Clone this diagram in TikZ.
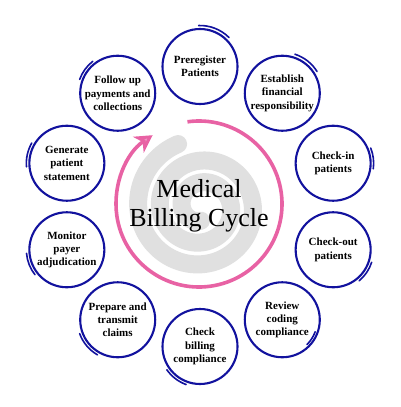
\documentclass[tikz,border=0pt]{standalone}
\usepackage{fontspec}
\setmainfont{Liberation Serif}
\usetikzlibrary{arrows.meta,calc}
\definecolor{navy}{RGB}{18,18,158}
\definecolor{hotpink}{RGB}{232,98,164}
\definecolor{lightpink}{RGB}{238,150,195}
\definecolor{spiralgray}{RGB}{224,224,224}
\tikzset{
  stepcirc/.style={circle, draw=navy, line width=2.1pt, minimum size=75pt, inner sep=0pt,
    align=center, font=\bfseries\fontsize{11}{13.4}\selectfont},
  tailstroke/.style={draw=navy, line width=1.6pt, line cap=round},
  pinkarc/.style={draw=hotpink, line width=3.6pt}
}
\newcommand\circtail[4]{\draw[tailstroke] (#1.center) ++(#2:#4) arc[start angle=#2, end angle=#3, radius=#4];}
\begin{document}
\begin{tikzpicture}[x=1pt,y=1pt]
\useasboundingbox (0,0) rectangle (400,-407);
\fill[white] (0,0) rectangle (400,-407);
\coordinate (c) at (199,-204);
% spiral
\draw[spiralgray, line width=18pt, line cap=round] plot[domain=0:880, samples=400]
  ({201+(67-\x/16.5)*cos(\x+110)}, {-207+(67-\x/16.5)*sin(\x+110)});
% pink cycle arrow
\draw[pinkarc, -{Stealth[length=17pt, width=19pt, inset=5pt, fill=lightpink]}]
  (c) ++(98:83pt) arc[start angle=98, end angle=-236, radius=83pt];
\node[font=\fontsize{26}{29.5}\selectfont, align=center] (title) at (199,-206) {Medical\\Billing Cycle};
% step circles
\coordinate (o) at (200,-206.5);
\node[stepcirc] (s1) at ($(o)+(90:140pt)$) {Preregister\\Patients};
\node[stepcirc] (s2) at ($(o)+(54:140pt)$) {Establish\\financial\\responsibility};
\node[stepcirc] (s3) at ($(o)+(18:140pt)$) {Check-in\\patients};
\node[stepcirc] (s4) at ($(o)+(-18:140pt)$) {Check-out\\patients};
\node[stepcirc] (s5) at ($(o)+(-54:140pt)$) {Review\\coding\\compliance};
\node[stepcirc] (s6) at ($(o)+(-90:140pt)$) {Check\\billing\\compliance};
\node[stepcirc] (s7) at ($(o)+(-126:140pt)$) {Prepare and\\transmit\\claims};
\node[stepcirc] (s8) at ($(o)+(-162:140pt)$) {Monitor\\payer\\adjudication};
\node[stepcirc] (s9) at ($(o)+(162:140pt)$) {Generate\\patient\\statement};
\node[stepcirc] (s10) at ($(o)+(126:140pt)$) {Follow up\\payments and\\collections};
\circtail{s1}{92}{45}{41pt}
\circtail{s2}{72}{32}{41pt}
\circtail{s3}{22}{-8}{40.5pt}
\circtail{s4}{-18}{-50}{40.5pt}
\circtail{s5}{-20}{-45}{35pt}
\circtail{s6}{215}{250}{40.5pt}
\circtail{s7}{200}{240}{40.5pt}
\circtail{s8}{185}{218}{40.5pt}
\circtail{s9}{150}{185}{40.5pt}
\circtail{s10}{128}{160}{40.5pt}
\end{tikzpicture}
\end{document}
